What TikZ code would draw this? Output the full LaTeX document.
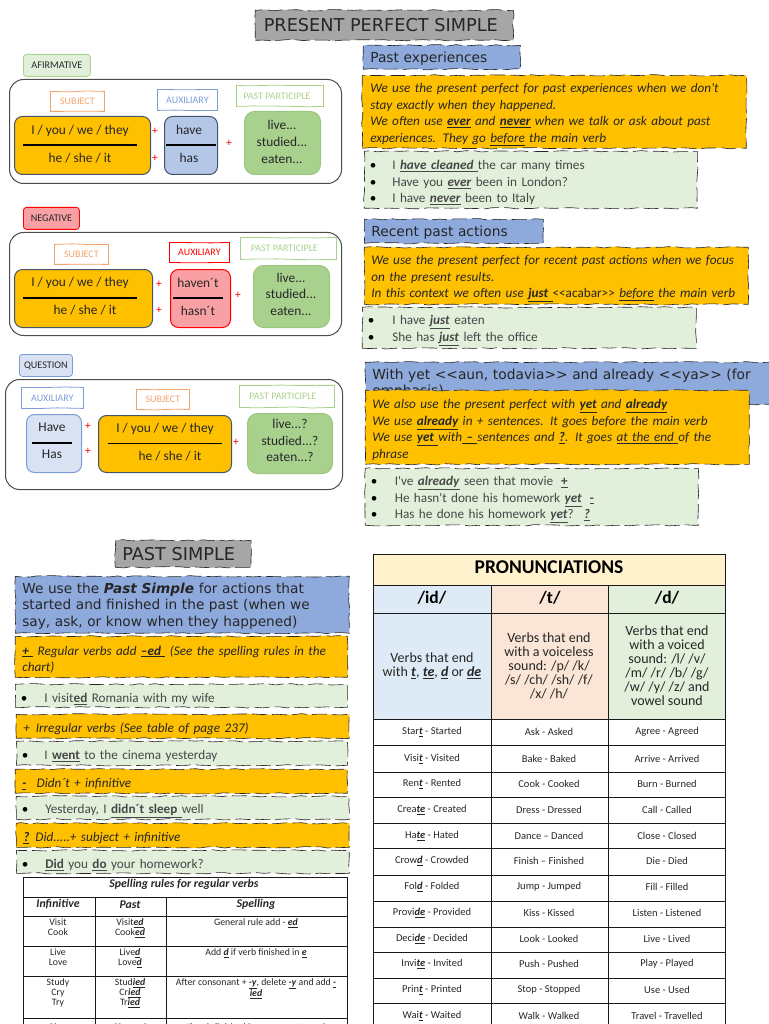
\documentclass[tikz,border=0pt]{standalone}
\usepackage{fontspec}
\setmainfont{Carlito}
\newfontfamily\headfont{DejaVu Sans}
\usetikzlibrary{decorations.pathmorphing}
\definecolor{amber}{HTML}{FFC000}
\definecolor{headblue}{HTML}{8EA9DB}
\definecolor{palegreen}{HTML}{E2EFDA}
\definecolor{midgrey}{HTML}{A6A6A6}
\definecolor{partgreen}{HTML}{A9D18E}
\definecolor{partedge}{HTML}{70AD47}
\definecolor{auxblue}{HTML}{B4C7E7}
\definecolor{paleblue}{HTML}{D9E2F3}
\definecolor{tagblue}{HTML}{4472C4}
\definecolor{slate}{HTML}{44546A}
\definecolor{rose}{HTML}{F8A0A4}
\definecolor{tagorange}{HTML}{F2A36C}
\definecolor{softblack}{HTML}{262626}
\definecolor{titlefill}{HTML}{FFF2CC}
\definecolor{idfill}{HTML}{DEEAF6}
\definecolor{tfill}{HTML}{FBE5D6}
\newcommand{\kw}[1]{\underline{\textbf{\textit{#1}}}}
\newcommand{\ku}[1]{\underline{\textbf{#1}}}
\newcommand{\ki}[1]{\underline{\textit{#1}}}
\newcommand{\bul}[1][21pt]{\makebox[#1][l]{\hspace*{-1.5pt}\textcolor{black}{\textbullet}}}
\tikzset{
  nudge/.style={execute at begin node={\vskip #1}},
  rough/.style={anchor=north west, draw=black!85, line width=.6pt, dash pattern=on 15pt off 5pt,
    decorate, decoration={random steps, segment length=8pt, amplitude=.7pt},
    inner xsep=7pt, inner ysep=0pt, align=left, text=softblack},
  titlebox/.style={rough, fill=midgrey, font=\headfont\fontsize{17.7}{20}\selectfont, align=center},
  headbox/.style={rough, fill=headblue, font=\headfont\fontsize{13.8}{16.5}\selectfont},
  rulebox/.style={rough, fill=amber, font=\itshape\fontsize{13.2}{16.5}\selectfont, nudge=-1.5pt},
  examplebox/.style={rough, fill=palegreen, font=\fontsize{13.2}{16.5}\selectfont, text=softblack!85!white, nudge=-1.5pt},
  tag/.style={anchor=north west, rounded corners=3pt, line width=.8pt, inner sep=0pt,
    font=\fontsize{10.2}{11}\selectfont, text=softblack},
  sketch/.style={anchor=north west, draw=#1, text=#1, line width=.8pt, inner sep=0pt,
    decorate, decoration={random steps, segment length=18pt, amplitude=.6pt},
    font=\fontsize{10}{11}\selectfont},
  frame/.style={anchor=north west, draw=black!70, line width=1pt, rounded corners=14pt, inner sep=0pt},
  formbox/.style={anchor=north west, rounded corners=8pt, line width=1pt, inner sep=0pt},
  formtext/.style={font=\fontsize{13.4}{16.6}\selectfont, text=softblack, align=center},
  plus/.style={font=\fontsize{11.5}{12}\selectfont, text=red},
  divider/.style={line width=1.7pt},
  grid line/.style={line width=.8pt, draw=black!90},
  cell/.style={font=\fontsize{10.5}{11}\selectfont, text=softblack, yshift=-1pt},
  spell/.style={font=\fontsize{9.8}{10.2}\selectfont, text=softblack, align=center, anchor=north},
  spellhead/.style={font=\bfseries\itshape\fontsize{11.8}{12}\selectfont, text=softblack},
  soundhead/.style={font=\bfseries\fontsize{17.5}{18}\selectfont, text=black},
  soundtext/.style={font=\fontsize{14}{14}\selectfont, text=softblack, align=center}
}
\pgfmathsetseed{7}
\begin{document}
\begin{tikzpicture}[x=1pt, y=-1pt]
\useasboundingbox (0,0) rectangle (768,1024);

% present perfect, left side
\node[titlebox, minimum width=258, minimum height=30] (perfecttitle) at (255,10) {PRESENT PERFECT SIMPLE\hspace*{7pt}};

\node[tag, draw=partgreen, fill=palegreen, minimum width=67, minimum height=22] (afirmtag) at (23,54) {AFIRMATIVE};
\node[frame, minimum width=332, minimum height=104] (afirmframe) at (9,79) {};
\node[sketch=tagorange, minimum width=54, minimum height=20] (afirmsubj) at (50,91) {SUBJECT};
\node[sketch=tagblue!70!white, minimum width=60, minimum height=21] (afirmaux) at (157,89) {AUXILIARY};
\node[sketch=partgreen, minimum width=87, minimum height=21] (afirmpart) at (236,85) {PAST PARTICIPLE\hspace*{6pt}};
\node[formbox, fill=amber, draw=slate, minimum width=136, minimum height=58] (afirmform) at (14,116) {};
\draw[divider] (23,145) -- (137,145);
\node[formtext] (afirmi) at (80,130.5) {I / you / we / they};
\node[formtext] (afirmhe) at (80,158) {he / she / it};
\node[plus] (afirmplusa) at (155,131) {+};
\node[plus] (afirmplusb) at (155,158) {+};
\node[formbox, fill=auxblue, draw=slate, minimum width=53, minimum height=58] (afirmverb) at (164,116) {};
\draw[divider] (166,145) -- (216,145);
\node[formtext] (afirmhave) at (189,130) {have};
\node[formtext] (afirmhas) at (189,158) {has};
\node[plus] (afirmplusc) at (229,143) {+};
\node[formbox, fill=partgreen, draw=partedge!70!white, minimum width=76, minimum height=63, rounded corners=10pt] (afirmverbs) at (244,111) {};
\node[formtext] (afirmlive) at (282,142) {live...\\studied...\\eaten...};

\node[tag, draw=red, fill=rose, minimum width=56, minimum height=22] (negtag) at (23,207) {NEGATIVE};
\node[frame, minimum width=332, minimum height=103] (negframe) at (9,232) {};
\node[sketch=tagorange, minimum width=54, minimum height=20] (negsubj) at (54,244) {SUBJECT};
\node[sketch=red, minimum width=60, minimum height=20] (negaux) at (169,242) {AUXILIARY};
\node[sketch=partgreen, minimum width=96, minimum height=22] (negpart) at (240,237) {PAST PARTICIPLE\hspace*{8pt}};
\node[formbox, fill=amber, draw=slate, minimum width=138, minimum height=58] (negform) at (14,269) {};
\draw[divider] (23,298) -- (137,298);
\node[formtext] (negi) at (80,283) {I / you / we / they};
\node[formtext] (neghe) at (85,310.5) {he / she / it};
\node[plus] (negplusa) at (159,284) {+};
\node[plus] (negplusb) at (159,310) {+};
\node[formbox, fill=rose, draw=red, minimum width=60, minimum height=58] (negverb) at (170,269) {};
\draw[divider] (173,298) -- (223,298);
\node[formtext] (neghave) at (198,282.5) {haven´t};
\node[formtext] (neghas) at (198,310.5) {hasn´t};
\node[plus] (negplusc) at (238,295) {+};
\node[formbox, fill=partgreen, draw=partedge!70!white, minimum width=76, minimum height=62, rounded corners=10pt] (negverbs) at (253,265) {};
\node[formtext] (neglive) at (291,294) {live...\\studied...\\eaten...};

\node[tag, draw=tagblue!70!white, fill=paleblue, minimum width=53, minimum height=22] (asktag) at (19,354) {QUESTION};
\node[frame, minimum width=337, minimum height=110] (askframe) at (5,379) {};
\node[sketch=tagblue!70!white, minimum width=62, minimum height=21] (askaux) at (21,387) {AUXILIARY};
\node[sketch=tagorange, minimum width=53, minimum height=20] (asksubj) at (136,389) {SUBJECT};
\node[sketch=partgreen, minimum width=95, minimum height=22] (askpart) at (239,385) {PAST PARTICIPLE\hspace*{8pt}};
\node[formbox, fill=paleblue, draw=tagblue!70!white, minimum width=55, minimum height=58] (askverb) at (26,414) {};
\draw[divider] (32,443) -- (72,443);
\node[formtext] (askhave) at (52,427) {Have};
\node[formtext] (askhas) at (52,454) {Has};
\node[plus] (askplusa) at (88,426) {+};
\node[plus] (askplusb) at (88,451) {+};
\node[formbox, fill=amber, draw=slate, minimum width=133, minimum height=57] (askform) at (98,415) {};
\draw[divider] (108,443.5) -- (222,443.5);
\node[formtext] (aski) at (165,428.5) {I / you / we / they};
\node[formtext] (askhe) at (170,456.5) {he / she / it};
\node[plus] (askplusc) at (236,442) {+};
\node[formbox, fill=partgreen, draw=partedge!70!white, minimum width=85, minimum height=60, rounded corners=10pt] (askverbs) at (247,413) {};
\node[formtext] (asklive) at (290,440.5) {live...?\\studied...?\\eaten...?};

% present perfect, right side
\node[headbox, nudge=-3.5pt, minimum width=157, minimum height=24, text width=143] (pasthead) at (363,45) {Past experiences};
\node[rulebox, minimum width=384, minimum height=73, text width=370] (pastrule) at (362,75) {\hspace*{1pt}We use the present perfect for past experiences when we don\textquotesingle t\\\hspace*{1pt}stay exactly when they happened.\\\hspace*{1pt}We often use \kw{ever} and \kw{never} when we talk or ask about past\\\hspace*{1pt}experiences. They go \ki{before} the main verb};
\node[examplebox, minimum width=333, minimum height=57, text width=319] (pastex) at (364,151) {\bul I \kw{have cleaned }the car many times\\\bul Have you \kw{ever} been in London?\\\bul I have \kw{never} been to Italy};

\node[headbox, nudge=-3.5pt, minimum width=179, minimum height=24, text width=165] (recenthead) at (364,219) {Recent past actions};
\node[rulebox, minimum width=384, minimum height=57, text width=370] (recentrule) at (364,247) {We use the present perfect for recent past actions when we focus\\on the present results.\\In this context we often use \kw{just }{\upshape<{}<acabar>{}>} \ki{before} the main verb};
\node[examplebox, minimum width=334, minimum height=41, text width=320] (recentex) at (362,307) {\bul[23pt]I have \kw{just} eaten\\\bul[23pt]She has \kw{just} left the office};

\node[headbox, minimum width=405, minimum height=42, text width=391, font=\headfont\fontsize{13.8}{16}\selectfont] (yethead) at (365,362) {With yet <{}<aun, todavia>{}> and already <{}<ya>{}> (for\\emphasis)};
\node[rulebox, minimum width=384, minimum height=74, text width=370] (yetrule) at (365,390) {We also use the present perfect with \kw{yet} and \kw{already}\\We use \kw{already} in + sentences. It goes before the main verb\\We use \kw{yet }with\ki{ \textbf{--} }sentences and \kw{?}. It goes \ki{at the end }of the\\phrase};
\node[examplebox, minimum width=333, minimum height=57, text width=319] (yetex) at (365,468) {\bul[22.5pt]I\textquotesingle ve \kw{already} seen that movie\hspace{8pt}\ku{+}\\\bul[22.5pt]He hasn\textquotesingle t done his homework \kw{yet}\hspace{8pt}\ku{-}\\\bul[22.5pt]Has he done his homework \kw{yet}?\hspace{10pt}\kw{?}};

% past simple
\node[titlebox, minimum width=135, minimum height=27] (simpletitle) at (115,540) {PAST SIMPLE\hspace*{9pt}};
\node[headbox, nudge=-3.5pt, minimum width=334, minimum height=57, text width=320, font=\headfont\fontsize{13.7}{16.6}\selectfont] (simplehead) at (15,576) {We use the \textbf{\textit{Past Simple}} for actions that\\started and finished in the past (when we\\say, ask, or know when they happened)};
\node[rulebox, minimum width=332, minimum height=41, text width=318] (regrule) at (15,636) {\ku{+ } Regular verbs add \kw{–ed } (See the spelling rules in the\\chart)};
\node[examplebox, minimum width=332, minimum height=23, text width=318] (regex) at (15,684) {\bul[22pt]I visit\ku{ed} Romania with my wife};
\node[rulebox, minimum width=333, minimum height=24, text width=319] (irrrule) at (16,714) {+\hspace{6pt}Irregular verbs (See table of page 237)};
\node[examplebox, minimum width=331, minimum height=24, text width=317] (irrex) at (16,741) {\bul[21pt]I \ku{went} to the cinema yesterday};
\node[rulebox, minimum width=332, minimum height=24, text width=318] (negrule) at (15,769) {\ku{-}\hspace{6pt} Didn´t + infinitive};
\node[examplebox, minimum width=333, minimum height=23, text width=319] (negex) at (16,796) {\bul[22pt]Yesterday, I \ku{didn´t sleep }well};
\node[rulebox, minimum width=333, minimum height=24, text width=319] (askrule) at (16,823) {\ku{?}\hspace{6pt}Did.....+ subject + infinitive};
\node[examplebox, minimum width=333, minimum height=23, text width=319] (askex) at (16,850) {\bul[22pt]\ku{Did} you \ku{do} your homework?};

% spelling table
\draw[grid line] (23,877) -- (347,877) (23,897) -- (347,897) (23,916) -- (347,916) (23,946) -- (347,946) (23,976) -- (347,976) (23,1018) -- (347,1018);
\draw[grid line] (23,877) -- (23,1024) (347,877) -- (347,1024);
\draw[grid line] (95,897) -- (95,1024) (166,897) -- (166,1024);
\node[spellhead] (spelltitle) at (184,884.5) {Spelling rules for regular verbs};
\node[spellhead] (spellinf) at (58,904.5) {Infinitive};
\node[spellhead] (spellpast) at (130,904.5) {Past};
\node[spellhead] (spellrule) at (256,904.5) {Spelling};
\node[spell] (rowainf) at (58,915) {Visit\\Cook};
\node[spell] (rowapast) at (130,915) {Visit\kw{ed}\\Cook\kw{ed}};
\node[spell] (rowarule) at (256,915) {General rule add - \kw{ed}};
\node[spell] (rowbinf) at (58,945) {Live\\Love};
\node[spell] (rowbpast) at (130,945) {Live\kw{d}\\Love\kw{d}};
\node[spell] (rowbrule) at (256,945) {Add \kw{d} if verb finished in \kw{e}};
\node[spell] (rowcinf) at (58,975) {Study\\Cry\\Try};
\node[spell] (rowcpast) at (130,975) {Stud\kw{ied}\\Cr\kw{ied}\\Tr\kw{ied}};
\node[spell] (rowcrule) at (256,975) {After consonant + \kw{-y}, delete \kw{-y} and add \kw{-}\\\kw{ied}};
\node[spell] (rowdinf) at (58,1020) {Plan};
\node[spell] (rowdpast) at (130,1020) {Planned};
\node[spell] (rowdrule) at (256,1020) {If verb finished in consonant-vowel};

% pronunciation table
\fill[titlefill] (373,554) rectangle (725,585);
\fill[idfill] (373,585) rectangle (491,719);
\fill[tfill] (491,585) rectangle (608,719);
\fill[palegreen] (608,585) rectangle (725,719);
\draw[grid line] (373,554) -- (725,554) (373,585) -- (725,585) (373,613) -- (725,613) (373,719) -- (725,719);
\draw[grid line] (373,745) -- (725,745) (373,772) -- (725,772) (373,797) -- (725,797) (373,823) -- (725,823) (373,848) -- (725,848) (373,875) -- (725,875) (373,901) -- (725,901) (373,927) -- (725,927) (373,952) -- (725,952) (373,978) -- (725,978) (373,1003) -- (725,1003);
\draw[grid line] (373,554) -- (373,1024) (725,554) -- (725,1024);
\draw[grid line] (491,585) -- (491,1024) (608,585) -- (608,1024);
\node[soundhead, font=\bfseries\fontsize{19.5}{20}\selectfont] (soundtitle) at (549,567) {PRONUNCIATIONS};
\node[soundhead] (idhead) at (432,598) {/id/};
\node[soundhead] (thead) at (550,598) {/t/};
\node[soundhead] (dhead) at (667,598) {/d/};
\node[soundtext] (idtext) at (432,666) {Verbs that end\\with \kw{t}, \kw{te}, \kw{d} or \kw{de}};
\node[soundtext] (ttext) at (549,666) {Verbs that end\\with a voiceless\\sound: /p/ /k/\\/s/ /ch/ /sh/ /f/\\/x/ /h/};
\node[soundtext] (dtext) at (667,665.5) {Verbs that end\\with a voiced\\sound: /l/ /v/\\/m/ /r/ /b/ /g/\\/w/ /y/ /z/ and\\vowel sound};

\node[cell] (starta) at (432,731) {Star\kw{t} - Started};
\node[cell] (askb) at (549,731) {Ask - Asked};
\node[cell] (agreec) at (667,731) {Agree - Agreed};
\node[cell] (visita) at (432,758) {Visi\kw{t} - Visited};
\node[cell] (bakeb) at (549,758) {Bake - Baked};
\node[cell] (arrivec) at (667,758) {Arrive - Arrived};
\node[cell] (renta) at (432,783) {Ren\kw{t} - Rented};
\node[cell] (cookb) at (549,783) {Cook - Cooked};
\node[cell] (burnc) at (667,783) {Burn - Burned};
\node[cell] (createa) at (432,809) {Crea\kw{te} - Created};
\node[cell] (dressb) at (549,809) {Dress - Dressed};
\node[cell] (callc) at (667,809) {Call - Called};
\node[cell] (hatea) at (432,835) {Ha\kw{te} - Hated};
\node[cell] (danceb) at (549,835) {Dance – Danced};
\node[cell] (closec) at (667,835) {Close - Closed};
\node[cell] (crowda) at (432,860) {Crow\kw{d} - Crowded};
\node[cell] (finishb) at (549,860) {Finish – Finished};
\node[cell] (diec) at (667,860) {Die - Died};
\node[cell] (folda) at (432,886) {Fol\kw{d} - Folded};
\node[cell] (jumpb) at (549,886) {Jump - Jumped};
\node[cell] (fillc) at (667,886) {Fill - Filled};
\node[cell] (providea) at (432,912) {Provi\kw{de} - Provided};
\node[cell] (kissb) at (549,912) {Kiss - Kissed};
\node[cell] (listenc) at (667,912) {Listen - Listened};
\node[cell] (decidea) at (432,938) {Deci\kw{de} - Decided};
\node[cell] (lookb) at (549,938) {Look - Looked};
\node[cell] (livec) at (667,938) {Live - Lived};
\node[cell] (invitea) at (432,963) {Invi\kw{te} - Invited};
\node[cell] (pushb) at (549,963) {Push - Pushed};
\node[cell] (playc) at (667,963) {Play - Played};
\node[cell] (printa) at (432,989) {Prin\kw{t} - Printed};
\node[cell] (stopb) at (549,989) {Stop - Stopped};
\node[cell] (usec) at (667,989) {Use - Used};
\node[cell] (waita) at (432,1015) {Wai\kw{t} - Waited};
\node[cell] (walkb) at (549,1015) {Walk - Walked};
\node[cell] (travelc) at (667,1015) {Travel - Travelled};

\end{tikzpicture}
\end{document}
